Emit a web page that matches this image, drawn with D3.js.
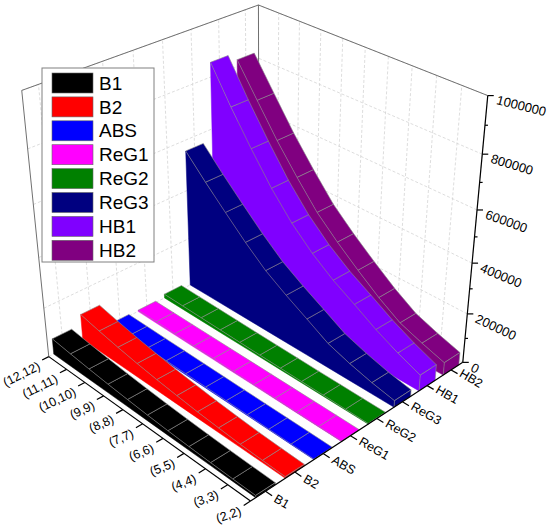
<!DOCTYPE html>
<html>
<head>
<meta charset="utf-8">
<script src="https://cdn.jsdelivr.net/npm/d3@7"></script>
<style>
  body { margin: 0; background: #fff; }
  text { font-family: "Liberation Sans", Arial, sans-serif; fill: #000; }
</style>
</head>
<body>
<div id="chart"></div>
<script>
// ---------------------------------------------------------------------------
// Data
const xLabels = ["(2,2)", "(3,3)", "(4,4)", "(5,5)", "(6,6)", "(7,7)",
                 "(8,8)", "(9,9)", "(10,10)", "(11,11)", "(12,12)"];
const seriesNames = ["B1", "B2", "ABS", "ReG1", "ReG2", "ReG3", "HB1", "HB2"];
const seriesColors = ["#000000", "#FF0000", "#0000FF", "#FF00FF",
                      "#008000", "#000080", "#8000FF", "#800080"];

const b1Values   = [8600, 10000, 12000, 15000, 19000, 24000, 30000, 37000, 45000, 54000, 64000];
const b2Values   = [6200, 9000, 13000, 19000, 26000, 35000, 45000, 57000, 71000, 87000, 105000];
const absValues  = [1500, 2000, 2400, 2900, 3300, 3800, 4300, 4900, 5400, 6000, 6500];
const reg1Values = [1200, 1600, 2000, 2300, 2700, 3100, 3500, 3900, 4300, 4700, 5000];
const reg2Values = [2500, 3300, 4300, 5400, 6600, 8000, 9500, 11200, 13000, 14800, 16500];
const reg3Values = [27000, 45000, 69000, 99000, 148000, 196000, 249000, 318000, 395000, 474000, 558000];
const hb1Values  = [65000, 102000, 146000, 198000, 248000, 310000, 387000, 483000, 598000, 721000, 855000];
const hb2Values  = [52000, 80000, 113000, 168000, 233000, 302000, 379000, 478000, 585000, 705000, 826000];

const seriesValues = [b1Values, b2Values, absValues, reg1Values,
                      reg2Values, reg3Values, hb1Values, hb2Values];

const zMax = 1000000;

// ---------------------------------------------------------------------------
// Projection of the unit box (u: x categories, v: series, w: value) to screen,
// fitted to where the box corners sit in the picture.
const calib = [
  { u: 0, v: 0, w: 0, x: 250, y: 501 },
  { u: 1, v: 0, w: 0, x: 49,  y: 357 },
  { u: 0, v: 1, w: 0, x: 463, y: 362 },
  { u: 0, v: 1, w: 1, x: 488, y: 96 },
  { u: 1, v: 1, w: 1, x: 258, y: 5 },
  { u: 1, v: 0, w: 1, x: 22,  y: 90 },
];

function fitProjection(pts) {
  const rows = [], rhs = [];
  pts.forEach((p) => {
    rows.push([p.u, p.v, p.w, 1, 0, 0, 0, 0, -p.x * p.u, -p.x * p.v, -p.x * p.w]);
    rhs.push(p.x);
    rows.push([0, 0, 0, 0, p.u, p.v, p.w, 1, -p.y * p.u, -p.y * p.v, -p.y * p.w]);
    rhs.push(p.y);
  });
  const n = 11;
  const M = d3.range(n).map(() => new Array(n + 1).fill(0));
  rows.forEach((r, k) => {
    for (let i = 0; i < n; i++) {
      for (let j = 0; j < n; j++) M[i][j] += r[i] * r[j];
      M[i][n] += r[i] * rhs[k];
    }
  });
  for (let c = 0; c < n; c++) {
    let piv = c;
    for (let r = c + 1; r < n; r++) if (Math.abs(M[r][c]) > Math.abs(M[piv][c])) piv = r;
    [M[c], M[piv]] = [M[piv], M[c]];
    for (let r = 0; r < n; r++) {
      if (r === c) continue;
      const f = M[r][c] / M[c][c];
      for (let j = c; j <= n; j++) M[r][j] -= f * M[c][j];
    }
  }
  return M.map((r, i) => r[n] / r[i]);
}

const m = fitProjection(calib);
function P(u, v, w) {
  const d = m[8] * u + m[9] * v + m[10] * w + 1;
  return [(m[0] * u + m[1] * v + m[2] * w + m[3]) / d,
          (m[4] * u + m[5] * v + m[6] * w + m[7]) / d];
}

// ---------------------------------------------------------------------------
// Scales
const xScale = d3.scalePoint().domain(xLabels).range([0, 1]);
const vScale = d3.scaleBand().domain(seriesNames).range([0, 1]);
const zScale = d3.scaleLinear().domain([0, zMax]).range([0, 1]);
const color = d3.scaleOrdinal().domain(seriesNames).range(seriesColors);

const width = 550, height = 528;
const svg = d3.select("#chart").append("svg")
  .attr("width", width).attr("height", height);

const line = d3.line();
const poly = (pts) => line(pts) + "Z";

//-----------------------------------------------------------------------------
// Back walls: grid and frame
const grid = svg.append("g")
  .attr("fill", "none")
  .attr("stroke", "#d4d4d4")
  .attr("stroke-width", 0.8)
  .attr("stroke-dasharray", "3,2");

const zTicks = zScale.ticks(5);

// left wall (u = 1)
seriesNames.forEach((s) => {
  const v = vScale(s) + vScale.bandwidth() / 2;
  grid.append("path").attr("d", line([P(1, v, 0), P(1, v, 1)]));
});
zTicks.forEach((t) => {
  grid.append("path").attr("d", line([P(1, 0, zScale(t)), P(1, 1, zScale(t))]));
});
// right wall (v = 1)
xLabels.forEach((x) => {
  const u = xScale(x);
  grid.append("path").attr("d", line([P(u, 1, 0), P(u, 1, 1)]));
});
zTicks.forEach((t) => {
  grid.append("path").attr("d", line([P(0, 1, zScale(t)), P(1, 1, zScale(t))]));
});

const frame = svg.append("g")
  .attr("fill", "none")
  .attr("stroke", "#707070")
  .attr("stroke-width", 1);
frame.append("path").attr("d", line([P(1, 0, 0), P(1, 0, 1), P(1, 1, 1), P(0, 1, 1)]));
frame.append("path").attr("d", line([P(1, 1, 1), P(1, 1, 0)]));

//-----------------------------------------------------------------------------
// Walls, drawn back to front
const thickness = vScale.bandwidth() * 0.66;
const edgeColor = "#8a8a8a";

const walls = svg.append("g");
seriesNames.slice().reverse().forEach((s) => {
  const idx = seriesNames.indexOf(s);
  const vals = seriesValues[idx];
  const vc = vScale(s) + vScale.bandwidth() / 2;
  const vL = vc - thickness / 2, vR = vc + thickness / 2;
  const us = xLabels.map((x) => xScale(x));
  const ws = vals.map((d) => zScale(d));
  const g = walls.append("g");

  // side face facing the viewer
  const side = us.map((u) => P(u, vL, 0))
    .concat(us.map((u, i) => P(u, vL, ws[i])).reverse());
  g.append("path").attr("d", poly(side))
    .attr("fill", color(s)).attr("stroke", color(s)).attr("stroke-width", 0.5);

  // top face, one strip per x segment
  for (let i = 0; i < us.length - 1; i++) {
    g.append("path")
      .attr("d", poly([P(us[i], vL, ws[i]), P(us[i], vR, ws[i]),
                       P(us[i + 1], vR, ws[i + 1]), P(us[i + 1], vL, ws[i + 1])]))
      .attr("fill", color(s))
      .attr("stroke", edgeColor)
      .attr("stroke-width", 0.6);
  }

  // front end face
  g.append("path")
    .attr("d", poly([P(0, vL, 0), P(0, vR, 0), P(0, vR, ws[0]), P(0, vL, ws[0])]))
    .attr("fill", color(s))
    .attr("stroke", edgeColor)
    .attr("stroke-width", 0.6);
});

//-----------------------------------------------------------------------------
// Axes
const axes = svg.append("g")
  .attr("stroke", "#000")
  .attr("stroke-width", 1.2)
  .attr("fill", "none");

// X axis (front left edge)
axes.append("path").attr("d", line([P(0, 0, 0), P(1, 0, 0)]));
xLabels.forEach((x) => {
  const u = xScale(x);
  const t = P(u, -0.028, 0);
  axes.append("path").attr("d", line([P(u, 0, 0), t]));
  svg.append("text")
    .attr("transform", `translate(${t[0] - 3},${t[1] + 5}) rotate(${-19 - 8 * u})`)
    .attr("text-anchor", "end")
    .attr("dy", "0.35em")
    .attr("font-size", 12.5)
    .text(x);
});

// Y axis (front right edge)
axes.append("path").attr("d", line([P(0, 0, 0), P(0, 1, 0)]));
seriesNames.forEach((s) => {
  const v = vScale(s) + vScale.bandwidth() / 2;
  axes.append("path").attr("d", line([P(0, v, 0), P(-0.028, v, 0)]));
  const p = P(-0.046, v, 0);
  svg.append("text")
    .attr("transform", `translate(${p[0] - 1},${p[1] - 1 - 3 * v}) rotate(30)`)
    .attr("text-anchor", "start")
    .attr("dy", "0.35em")
    .attr("font-size", 12.5)
    .text(s);
});

// Z axis (right corner)
axes.append("path").attr("d", line([P(0, 1, 0), P(0, 1, 1)]));
zTicks.forEach((t) => {
  const p = P(0, 1, zScale(t));
  axes.append("path").attr("d", line([p, [p[0] + 6, p[1]]]));
  svg.append("text")
    .attr("transform", `translate(${p[0] + 9},${p[1] + 4}) rotate(${28 - 14 * zScale(t)})`)
    .attr("dy", "0.35em")
    .attr("font-size", 13)
    .text(t);
});
d3.range(100000, zMax, 200000).forEach((t) => {
  const p = P(0, 1, zScale(t));
  axes.append("path").attr("d", line([p, [p[0] + 3, p[1]]]));
});

//-----------------------------------------------------------------------------
// Legend
const legend = svg.append("g").attr("transform", "translate(42,68)");
legend.append("rect")
  .attr("width", 112).attr("height", 194)
  .attr("fill", "#fff").attr("stroke", "#808080").attr("stroke-width", 1);
seriesNames.forEach((s, i) => {
  const row = legend.append("g").attr("transform", `translate(0,${15 + i * 23.9})`);
  row.append("rect")
    .attr("x", 10).attr("y", -10).attr("width", 41).attr("height", 20)
    .attr("fill", color(s)).attr("stroke", "#666").attr("stroke-width", 0.6);
  row.append("text")
    .attr("x", 57).attr("dy", "0.35em")
    .attr("font-size", 19)
    .text(s);
});
</script>
</body>
</html>
